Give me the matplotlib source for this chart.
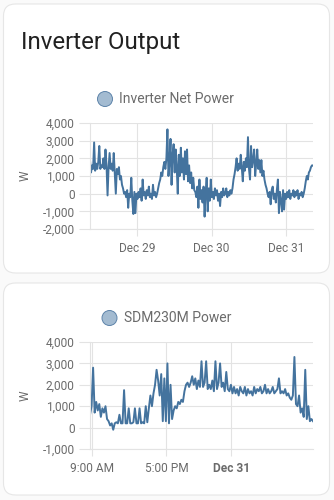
import numpy as np
import pandas as pd
import matplotlib
matplotlib.use('Agg')
import matplotlib.pyplot as plt
from matplotlib.patches import FancyBboxPatch, Circle
from datetime import datetime

plt.rcParams['font.family'] = ['Roboto', 'DejaVu Sans']

# Inverter net power, 20-minute samples from Dec 28 08:45 (one row = 3 hours)
net_start = "2023-12-28 08:45"
net_power = [
    1900, 1200, 1600, 1400, 2900, 1300, 1700, 1400, 1800,
    2700, 1400, 1600, 1500, 2000, 1400, 2500, 1600, -100,
    1500, 2300, 1400, 1700, 1300, 2300, 1200, 0, 1400,
    1100, 1500, 800, 1000, 500, 300, 0, 100, -200,
    200, -800, 0, -200, 900, -400, -1150, 100, -1100,
    0, -300, 100, -200, 300, -400, 800, -100, 100,
    -300, 200, -100, 400, -200, 0, -300, 500, -100,
    100, -200, 0, 300, 600, 800, 1200, 1000, 1500,
    1800, 1400, 2000, 3640, 1000, 1800, 3100, 500, 2200,
    2800, 1200, 2500, 1500, 0, 2200, 1000, 2600, 1200,
    2000, 800, 2400, 1100, 2500, 700, 1600, 600, 1200,
    300, 900, 200, 100, -200, 400, -800, 800, -300,
    200, -500, 400, -1300, 0, 900, -1000, 300, -400,
    800, -200, 100, -300, 300, -100, 200, -400, 0,
    -700, 100, -200, 300, -100, 0, 300, -200, 100,
    -100, 200, 0, 300, 800, 1100, 1500, 2000, 1300,
    1700, 1400, 2200, 1500, 700, 1800, 1300, 2000, 1500,
    3200, 1400, 800, 2700, 1500, 1900, 2500, 1000, 1700,
    2500, 1400, 1900, 1200, 1900, 1000, 1300, 800, 500,
    300, 0, -200, 100, -600, 200, 400, -300, 0,
    -500, 200, 800, -1100, 100, -400, -1000, 200, -900,
    0, -300, 100, -200, 200, -300, 0, -100, 200,
    -200, 100, -100, 200, -300, 0, -100, 100, -200,
    0, 300, 700, 1000, 800, 1200, 1300, 1500, 1600,
    1600,
]

# SDM230M power, 10-minute samples from Dec 30 08:47 (one row = 1 hour)
sdm_start = "2023-12-30 08:47"
sdm_power = [
    600, 1000, 2800, 700, 1200, 800,
    1100, 500, 900, 700, 1000, 400,
    300, 100, 200, -100, 200, 250,
    200, 600, 200, 200, 1750, 200,
    200, 900, 200, 200, 250, 900,
    200, 200, 900, 200, 250, 200,
    1000, 250, 900, 1500, 1000, 1600,
    2000, 2700, 2200, 1500, 2500, 300,
    2300, 300, 3000, 200, 2000, 400,
    800, 1000, 900, 1200, 1100, 1300,
    1200, 1700, 2000, 2100, 1900, 2100,
    2400, 2000, 2300, 1800, 2200, 1900,
    3100, 1900, 2100, 3100, 1800, 2000,
    1800, 2200, 1700, 3100, 1800, 2100,
    3000, 1900, 2100, 1700, 2600, 1800,
    1700, 2000, 1600, 1900, 1600, 1800,
    1500, 1900, 1700, 1600, 1900, 1500,
    1800, 1600, 1700, 1500, 1900, 1600,
    1800, 1700, 1900, 1600, 1700, 2000,
    1600, 1800, 1600, 1700, 1900, 1600,
    1700, 1800, 2300, 1600, 1700, 1600,
    1800, 1500, 1600, 1400, 1300, 1500,
    3300, 1100, 1000, 1500, 700, 900,
    500, 2700, 400, 1000, 300, 400,
    300,
]

net_ticks = [datetime(2023, 12, 29), datetime(2023, 12, 30), datetime(2023, 12, 31)]
net_labels = ["Dec 29", "Dec 30", "Dec 31"]
sdm_ticks = [datetime(2023, 12, 30, 9), datetime(2023, 12, 30, 17), datetime(2023, 12, 31)]
sdm_labels = ["9:00 AM", "5:00 PM", "Dec 31"]

LINE = '#44739e'
GRID = '#e3e3e3'
TXT = '#6b6b6b'

fig = plt.figure(figsize=(3.34, 5), dpi=100)
fig.patch.set_facecolor('#fafafa')

# background layer in pixel coords for the cards
bg = fig.add_axes([0, 0, 1, 1])
bg.set_xlim(0, 334)
bg.set_ylim(500, 0)
bg.axis('off')
for y0, y1 in [(4, 273), (283, 495)]:
    bg.add_patch(FancyBboxPatch((3.5, y0), 326, y1 - y0,
                                boxstyle="round,pad=0,rounding_size=12",
                                fc='white', ec='#e6e6e6', lw=0.8))
bg.text(21, 42, "Inverter Output", fontsize=17.3, color='#212121', va='center')


def panel(rect, start, step, values, ymin, ticks, labels, legend, lx, ly):
    ax = fig.add_axes(rect)
    t = pd.date_range(start, periods=len(values), freq=step)
    ax.plot(t, values, color=LINE, lw=1.4)
    ax.set_xlim(t[0], t[-1])
    ax.set_ylim(ymin, 4000)
    ax.set_yticks(range(ymin, 4001, 1000))
    ax.set_yticklabels([f"{v:,}" for v in range(ymin, 4001, 1000)])
    ax.set_xticks(ticks)
    ax.set_xticklabels(labels)
    ax.grid(True, color=GRID, lw=0.8)
    ax.set_axisbelow(True)
    for s in ['top', 'right']:
        ax.spines[s].set_visible(False)
    for s in ['left', 'bottom']:
        ax.spines[s].set_color(GRID)
        ax.spines[s].set_linewidth(0.8)
    ax.tick_params(axis='y', length=8, color=GRID, labelcolor=TXT, labelsize=8.6, pad=3)
    ax.tick_params(axis='x', length=5, color=GRID, labelcolor=TXT, labelsize=8.6, pad=4)
    ax.set_ylabel("W", color=TXT, fontsize=8.6, labelpad=8)
    bg.add_patch(Circle((lx, ly), 7.5, fc='#a3bbd1', ec='#5e84aa', lw=0.7))
    bg.text(lx + 14, ly, legend, fontsize=10, color=TXT, va='center')
    return ax


panel([90 / 334, 1 - 229 / 500, 223 / 334, 106 / 500], net_start, "20min", net_power,
      -2000, net_ticks, net_labels, "Inverter Net Power", 105, 99)
ax2 = panel([90 / 334, 1 - 449 / 500, 223 / 334, 107 / 500], sdm_start, "10min", sdm_power,
            -1000, sdm_ticks, sdm_labels, "SDM230M Power", 109.5, 318)
ax2.get_xticklabels()[2].set_fontweight('bold')

fig.savefig("out.png", dpi=100, facecolor=fig.get_facecolor())
